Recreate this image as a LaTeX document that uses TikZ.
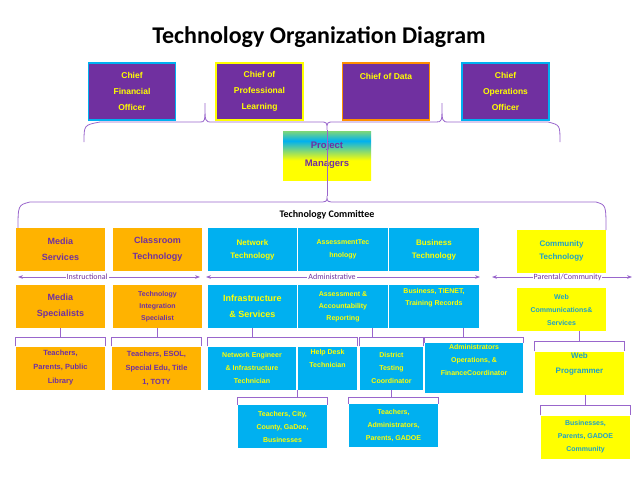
\documentclass[tikz,border=0pt]{standalone}
\usepackage{fontspec}
\setmainfont{Liberation Sans}
\newfontfamily\calib{Carlito}
\usetikzlibrary{arrows.meta}
\definecolor{cpur}{HTML}{7030A0}
\definecolor{corg}{HTML}{FFB300}
\definecolor{cblu}{HTML}{00B0F0}
\definecolor{cyel}{HTML}{FFFF00}
\definecolor{cteal}{HTML}{1FA0C8}
\definecolor{cline}{HTML}{9966CC}
\pgfdeclareverticalshading{pmshade}{100bp}{color(0bp)=(cpur!70!corg); color(20bp)=(cyel); color(45bp)=(cyel); color(65bp)=(cblu); color(85bp)=(cyel); color(100bp)=(corg)}
\begin{document}
\begin{tikzpicture}[x=1pt,y=-1pt,
  bx/.style={minimum width=89pt,minimum height=43pt,inner sep=1pt,align=center,font=\bfseries\fontsize{8}{13}\selectfont},
  org/.style={bx,fill=corg,text=cpur},
  blu/.style={bx,fill=cblu,text=cyel},
  yel/.style={bx,fill=cyel,text=cteal},
  chief/.style={bx,fill=cpur,text=cyel,minimum width=87pt,minimum height=57pt,line width=1.5pt,font=\bfseries\fontsize{8.5}{16}\selectfont},
  conn/.style={draw=cline,line width=0.8pt},
  lab/.style={fill=white,inner sep=1pt,text=cpur,font=\calib\fontsize{8}{9}\selectfont}]
\useasboundingbox (0,0) rectangle (638,493);
\node[font=\calib\bfseries\fontsize{24}{26}\selectfont] (title) at (319,37) {Technology Organization Diagram};
% chiefs
\node[chief,draw=cblu] (cfo) at (132,91.5) {Chief\\Financial\\Officer};
\node[chief,draw=cyel] (cpl) at (259.5,91.5) {Chief of\\Professional\\Learning};
\node[chief,draw=corg!80!red] (cod) at (386,91.5) {Chief of Data\\[14pt]};
\node[chief,draw=cblu] (coo) at (505.5,91.5) {Chief\\Operations\\Officer};
% top brace
\coordinate (tb) at (327,130);
\draw[conn] (84,142) .. controls (84,125) .. (100,122) -- (200,122) .. controls (205,122) .. (205,103)
  (205,103) .. controls (205,122) .. (212,122) -- (320,122) .. controls (327,122) .. (tb)
  .. controls (327,122) .. (334,122) -- (436,122) .. controls (442,122) .. (442,103)
  .. controls (442,122) .. (449,122) -- (548,122) .. controls (560,125) .. (560,142);
% project managers
\node[shading=pmshade,minimum width=88pt,minimum height=49pt,align=center,text=cpur,font=\bfseries\fontsize{9.5}{18}\selectfont] (pm) at (327,155.5) {Project\\Managers};
\coordinate (bb) at (327,196);
\draw[conn] (tb) -- (bb);
\draw[conn] (18,230) .. controls (18,205) .. (30,202) -- (318,202) .. controls (327,202) .. (bb)
  .. controls (327,202) .. (336,202) -- (596,202) .. controls (606,205) .. (606,230);
\node[font=\calib\bfseries\fontsize{10}{12}\selectfont] (tc) at (327,215) {Technology Committee};
% row 1
\node[org,font=\bfseries\fontsize{9}{16}\selectfont] (ms) at (60.5,249.5) {Media\\Services};
\node[org,font=\bfseries\fontsize{9}{16}\selectfont] (ct) at (157.5,249.5) {Classroom\\Technology};
\node[blu] (nt) at (252.5,249.5) {Network\\Technology};
\node[blu,minimum width=90pt,font=\bfseries\fontsize{7}{13}\selectfont] (at) at (343,249.5) {AssessmentTec\\hnology};
\node[blu,minimum width=90pt] (bt) at (434,249.5) {Business\\Technology};
\node[yel] (cmt) at (561.5,251) {Community\\Technology};
% arrows
\coordinate (a1) at (18,277); \coordinate (a2) at (200,277);
\coordinate (a3) at (206,277); \coordinate (a4) at (480,277);
\coordinate (a5) at (492,277); \coordinate (a6) at (632,277);
\draw[conn,{Stealth[length=5pt]}-{Stealth[length=5pt]}] (a1) -- node[lab,pos=0.38] (l1) {Instructional} (a2);
\draw[conn,{Stealth[length=5pt]}-{Stealth[length=5pt]}] (a3) -- node[lab,pos=0.46] (l2) {Administrative} (a4);
\draw[conn,{Stealth[length=5pt]}-{Stealth[length=5pt]}] (a5) -- node[lab,pos=0.54] (l3) {Parental/Community} (a6);
% row 2
\node[org,font=\bfseries\fontsize{9}{16}\selectfont] (msp) at (60.5,306.5) {Media\\Specialists};
\node[org,font=\bfseries\fontsize{7}{12}\selectfont] (tis) at (157.5,306.5) {Technology\\Integration\\Specialist};
\node[blu,font=\bfseries\fontsize{9}{16}\selectfont] (inf) at (252.5,306.5) {Infrastructure\\\& Services};
\node[blu,minimum width=90pt,font=\bfseries\fontsize{7}{12}\selectfont] (aar) at (343,306.5) {Assessment \&\\Accountability\\Reporting};
\node[blu,minimum width=90pt,font=\bfseries\fontsize{7}{12}\selectfont] (btr) at (434,306.5) {Business, TIENET,\\Training Records\\[8pt]};
\node[yel,font=\bfseries\fontsize{7}{13}\selectfont] (wcs) at (561.5,309.5) {Web\\Communications\&\\Services};
% row 3
\node[org,font=\bfseries\fontsize{7.5}{14}\selectfont] (tpp) at (60.5,368) {Teachers,\\Parents, Public\\Library};
\node[org,font=\bfseries\fontsize{7.5}{14}\selectfont] (tes) at (156.5,368) {Teachers, ESOL,\\Special Edu, Title\\1, TOTY};
\node[blu,minimum width=88pt,font=\bfseries\fontsize{7}{13}\selectfont] (nei) at (252,368) {Network Engineer\\\& Infrastructure\\Technician};
\node[blu,minimum width=59pt,font=\bfseries\fontsize{7}{13}\selectfont] (hdt) at (327.5,368) {Help Desk\\Technician\\[6pt]};
\node[blu,minimum width=63pt,font=\bfseries\fontsize{7}{13}\selectfont] (dtc) at (391.5,368) {District\\Testing\\Coordinator};
\node[blu,minimum width=98pt,font=\bfseries\fontsize{7}{13}\selectfont] (aof) at (474,368) {Administrators\\Operations, \&\\FinanceCoordinator\\[4pt]};
\node[yel,font=\bfseries\fontsize{8}{15}\selectfont] (wp) at (579.5,373) {Web\\Programmer\\[4pt]};
% row 4
\node[blu,font=\bfseries\fontsize{7}{13}\selectfont] (tcc) at (282.5,426.5) {Teachers, City,\\County, GaDoe,\\Businesses};
\node[blu,font=\bfseries\fontsize{7}{13}\selectfont] (tap) at (393.5,425.5) {Teachers,\\Administrators,\\Parents, GADOE};
\node[yel,font=\bfseries\fontsize{7}{13}\selectfont] (bpg) at (585.5,437) {Businesses,\\Parents, GADOE\\Community};
% brackets
\draw[conn] (msp.south) -- ++(0,9) coordinate (k1);
\draw[conn] (tpp.north west) |- (k1) -| (tpp.north east);
\draw[conn] (tis.south) -- ++(0,9) coordinate (k2);
\draw[conn] (tes.north west) |- (k2) -| (tes.north east);
\draw[conn] (inf.south) -- ++(0,9) coordinate (k3);
\draw[conn] (nei.north west) |- (k3) -| (hdt.north east);
\draw[conn] (aar.south) ++(29,0) coordinate (k4s) -- ++(0,9) coordinate (k4);
\draw[conn] (dtc.north west) |- (k4) -| (dtc.north east);
\draw[conn] (btr.south) ++(29,0) coordinate (k5s) -- ++(0,9) coordinate (k5);
\draw[conn] (aof.north west) |- (k5) -| (aof.north east);
\draw[conn] (wcs.south) ++(18,0) coordinate (k6s) -- ++(0,10) coordinate (k6);
\draw[conn] (wp.north west) |- (k6) -| (wp.north east);
\draw[conn] (nei.south east) ++(1,0) coordinate (k7s) -- ++(0,8) coordinate (k7);
\draw[conn] (tcc.north west) |- (k7) -| (tcc.north east);
\draw[conn] (dtc.south) -- ++(0,8) coordinate (k8);
\draw[conn] (tap.north west) |- (k8) -| (tap.north east);
\draw[conn] (wp.south) ++(6,0) coordinate (k9s) -- ++(0,11) coordinate (k9);
\draw[conn] (bpg.north west) |- (k9) -| (bpg.north east);
\end{tikzpicture}
\end{document}
